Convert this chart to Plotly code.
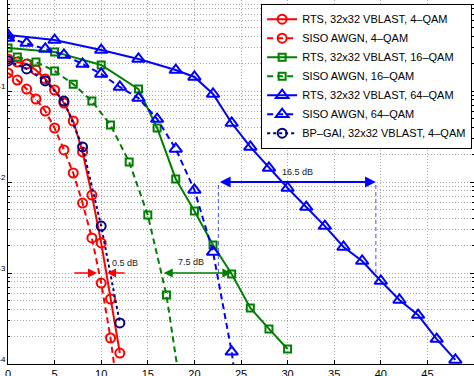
import math
import plotly.graph_objects as go

# ---------------- data ----------------
snr_rts4 = [0, 1, 2, 3, 4, 5, 6, 7, 8, 9, 10, 11, 12]
ber_rts4 = [0.225, 0.208, 0.198, 0.170, 0.1355, 0.1026, 0.0738, 0.0468, 0.0214,
            0.00719, 0.00214, 5.18e-4, 1.32e-4]

snr_siso4 = [0, 1, 2, 3, 4, 5, 6, 7, 8, 9, 10, 11, 12]
ber_siso4 = [0.158, 0.132, 0.105, 0.0817, 0.0603, 0.0392, 0.0225, 0.01256, 0.00587,
             0.00243, 7.76e-4, 1.93e-4, 3.4e-5]

snr_rts16 = [0, 5, 10, 14, 16, 18, 20, 22, 24, 26, 28, 30]
ber_rts16 = [0.297, 0.269, 0.193, 0.105, 0.0392, 0.0108, 0.0048, 0.00203, 9.75e-4,
             4.12e-4, 2.43e-4, 1.46e-4]

snr_siso16 = [1, 3, 5, 7, 9, 11, 13, 15, 17, 19]
ber_siso16 = [0.237, 0.208, 0.166, 0.119, 0.0776, 0.0423, 0.0166, 0.00433, 5.73e-4, 2.5e-5]

snr_rts64 = [0, 5, 10, 14, 18, 20, 22, 24, 26, 28, 30, 32, 34, 36, 38, 40, 42, 44, 46, 48]
ber_rts64 = [0.412, 0.363, 0.282, 0.225, 0.170, 0.1426, 0.0927, 0.0445, 0.0243, 0.01426,
             0.00859, 0.00531, 0.00328, 0.00193, 0.001355, 8.17e-4, 5.05e-4, 3.45e-4,
             1.88e-4, 1.11e-4]

snr_siso64 = [0, 2, 4, 6, 8, 10, 12, 14, 16, 18, 20, 22, 24, 26]
ber_siso64 = [0.382, 0.336, 0.290, 0.249, 0.198, 0.154, 0.1107, 0.0837, 0.0492, 0.0231,
              0.00817, 0.00170, 1.36e-4, 4e-6]

snr_bpgai = [0, 2, 4, 6, 8, 10, 12]
ber_bpgai = [0.214, 0.175, 0.129, 0.0776, 0.0243, 0.00328, 2.83e-4]

x_ticks = [0, 5, 10, 15, 20, 25, 30, 35, 40, 45, 50]
y_ticks = [1e-1, 1e-2, 1e-3, 1e-4]
y_ticklabels = ["-1", "-2", "-3", "-4"]

# gap annotations: (level, x_left, x_right, label)
gap_16 = (1e-2, 22.57, 39.47, "16.5 dB")
gap_75 = (1e-3, 16.55, 23.97, "7.5 dB")

RED = "#ff0000"
GREEN = "#008000"
BLUE = "#0000ff"
NAVY = "#000080"
FONT = "Liberation Sans, Arial, Helvetica, sans-serif"

fig = go.Figure()

def add(x, y, name, color, dash, symbol, size):
    fig.add_trace(go.Scatter(
        x=x, y=y, name=name, mode="lines+markers",
        line=dict(color=color, width=2, dash=dash),
        marker=dict(symbol=symbol, size=size, color=color,
                    line=dict(color=color, width=2)),
        cliponaxis=True,
    ))

add(snr_rts4, ber_rts4, "RTS, 32x32 VBLAST, 4–QAM", RED, "solid", "circle-open", 9)
add(snr_siso4, ber_siso4, "SISO AWGN, 4–QAM", RED, "6px,4px", "circle-open", 9)
add(snr_rts16, ber_rts16, "RTS, 32x32 VBLAST, 16–QAM", GREEN, "solid", "square-open", 7)
add(snr_siso16, ber_siso16, "SISO AWGN, 16–QAM", GREEN, "6px,4px", "square-open", 7)
add(snr_rts64, ber_rts64, "RTS, 32x32 VBLAST, 64–QAM", BLUE, "solid", "triangle-up-open", 11)
add(snr_siso64, ber_siso64, "SISO AWGN, 64–QAM", BLUE, "6px,4px", "triangle-up-open", 11)
add(snr_bpgai, ber_bpgai, "BP–GAI, 32x32 VBLAST, 4–QAM", NAVY, "3px,3px", "circle-open", 9)

annotations = []
shapes = []

# 16.5 dB gap: double arrow at 1e-2 and dashed verticals down to 1e-3
lvl, xl, xr, txt = gap_16
annotations.append(dict(x=xr, y=math.log10(lvl), ax=xl, ay=math.log10(lvl), xref="x", yref="y",
                        axref="x", ayref="y", showarrow=True, arrowhead=2, arrowside="end+start",
                        arrowsize=1.2, arrowwidth=1.8, arrowcolor=BLUE, text=""))
annotations.append(dict(x=(xl + xr) / 2, y=math.log10(lvl) + 0.11, xref="x", yref="y",
                        text=txt, showarrow=False, font=dict(size=9, color="#222", family=FONT)))
for xv in (xl, xr):
    shapes.append(dict(type="line", xref="x", yref="y", x0=xv, x1=xv, y0=1e-3, y1=lvl,
                       line=dict(color=BLUE, width=1, dash="4px,3px"), opacity=0.7))

# 7.5 dB gap at 1e-3
lvl, xl, xr, txt = gap_75
annotations.append(dict(x=xr, y=math.log10(lvl), ax=xl, ay=math.log10(lvl), xref="x", yref="y",
                        axref="x", ayref="y", showarrow=True, arrowhead=2, arrowside="end+start",
                        arrowsize=1.2, arrowwidth=1.5, arrowcolor=GREEN, text=""))
annotations.append(dict(x=19.6, y=math.log10(lvl) + 0.12, xref="x", yref="y",
                        text=txt, showarrow=False, font=dict(size=9, color="#222", family=FONT)))

# 0.5 dB gap at 1e-3 (two converging arrows)
annotations.append(dict(x=9.55, y=-3, ax=6.96, ay=-3, xref="x", yref="y", axref="x", ayref="y",
                        showarrow=True, arrowhead=2, arrowsize=1.2, arrowwidth=1.5,
                        arrowcolor=RED, text=""))
annotations.append(dict(x=10.62, y=-3, ax=12.67, ay=-3, xref="x", yref="y", axref="x", ayref="y",
                        showarrow=True, arrowhead=2, arrowsize=1.2, arrowwidth=1.5,
                        arrowcolor=RED, text=""))
annotations.append(dict(x=12.5, y=-2.89, xref="x", yref="y", text="0.5 dB", showarrow=False,
                        font=dict(size=9, color="#222", family=FONT)))

minor_vals = [m * 10.0 ** e for e in range(-4, 0) for m in range(2, 10)]

GRID = "#a8a8a8"
fig.update_layout(
    template="none",
    width=474, height=376,
    margin=dict(l=8, r=0, t=0, b=12, pad=0),
    paper_bgcolor="white", plot_bgcolor="white",
    font=dict(family=FONT, size=11, color="black"),
    showlegend=True,
    legend=dict(x=0.996, y=0.99, xanchor="right", yanchor="top",
                bgcolor="white", bordercolor="black", borderwidth=1,
                font=dict(size=11, family=FONT, color="black"),
                tracegroupgap=0),
    annotations=annotations,
    shapes=shapes,
    xaxis=dict(range=[0, 50], tickmode="array", tickvals=x_ticks, automargin=False,
               ticks="inside", ticklen=4, tickcolor="black",
               showline=True, linecolor="black", linewidth=1, mirror=False,
               showgrid=True, gridcolor=GRID, griddash="1px,2px", gridwidth=1,
               zeroline=False, tickfont=dict(size=11, family=FONT, color="black"),
               ticklabelstandoff=0),
    yaxis=dict(type="log", range=[-4, 0], tickmode="array", tickvals=y_ticks, automargin=False,
               ticktext=y_ticklabels, ticks="inside", ticklen=4, tickcolor="black",
               showline=True, linecolor="black", linewidth=1, mirror="ticks",
               showgrid=True, gridcolor=GRID, griddash="1px,2px", gridwidth=1,
               zeroline=False, tickfont=dict(size=8, family=FONT, color="black"),
               ticklabelstandoff=0, ticklabelshift=-5,
               minor=dict(tickmode="array", tickvals=minor_vals, ticks="inside",
                          ticklen=2, tickcolor="black", showgrid=True,
                          gridcolor=GRID, griddash="1px,2px", gridwidth=1)),
)

fig.write_html(
    "out.html",
    config={"displayModeBar": False},
    post_script="document.body.style.margin='0';document.body.style.overflow='hidden';",
)
